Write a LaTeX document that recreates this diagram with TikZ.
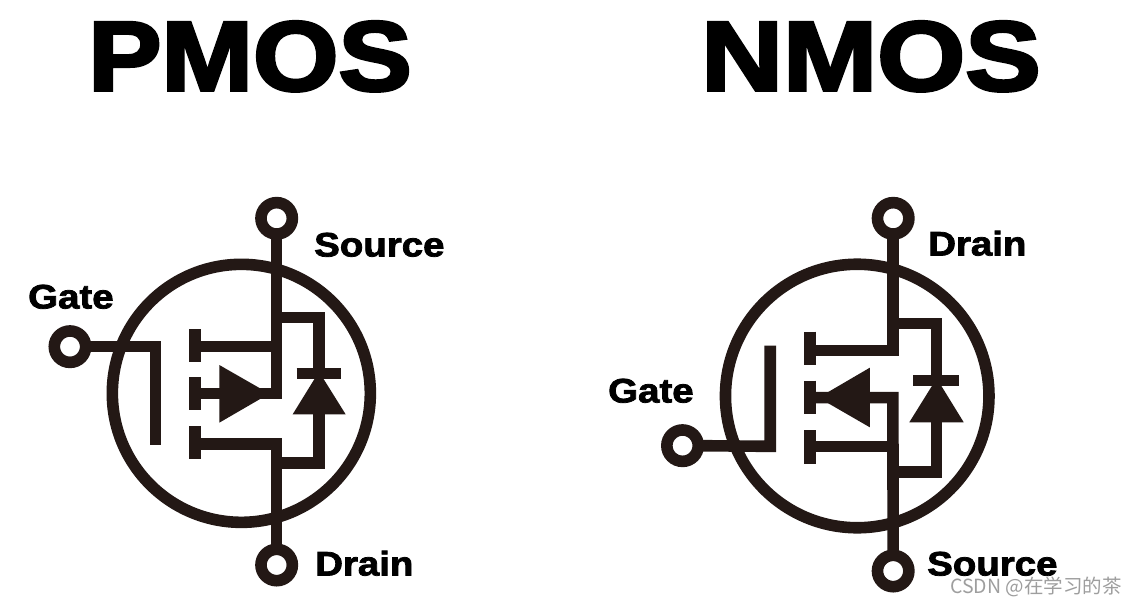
\documentclass[tikz,border=0pt]{standalone}
\usepackage{fontspec}
\setmainfont{Liberation Sans}
\newfontfamily\heavyfont[FakeBold=3]{Liberation Sans Bold}
\newfontfamily\labelfont[FakeBold=2.2]{Liberation Sans Bold}
\newfontfamily\markfont{Noto Sans CJK SC}
\definecolor{ink}{HTML}{231815}
\tikzset{
  wire/.style={draw=ink,line width=11.6pt,line join=miter,line cap=butt},
  solid shape/.style={fill=ink,draw=none},
  term/.style={circle,draw=ink,fill=white,line width=11.6pt,minimum size=31.4pt,inner sep=0pt,outer sep=0pt},
  titletext/.style={inner sep=0pt,anchor=base west,text=black,font=\heavyfont\fontsize{99}{99}\selectfont,xscale=1.11,transform shape},
  pinlabel/.style={inner sep=0pt,anchor=base west,text=black,font=\labelfont\fontsize{34}{34}\selectfont,xscale=1.13,transform shape},
}
\begin{document}
\begin{tikzpicture}[x=1pt,y=-1pt]
\useasboundingbox (0,0) rectangle (1137,605);
\fill[white] (0,0) rectangle (1137,605);
\node[titletext] (ptitle) at (88,90.5) {PMOS};
\node[titletext,xscale=1.03] (ntitle) at (701,90.5) {NMOS};
% PMOS
\begin{scope}[shift={(20pt,-190pt)},x=0.33333pt,y=-0.33333pt]
  \node[term] (ps) at (770,85) {};
  \node[term] (pd) at (770,1125) {};
  \node[term] (pg) at (150,470) {};
  \node[circle,draw=ink,line width=11.6pt,minimum size=258pt,inner sep=0pt] (pc) at (664,610) {};
  \draw[wire] (ps.south) -- (770,628);
  \draw[wire] (525,470) -- (770,470);
  \draw[wire] (525,611) -- (787,611);
  \draw[wire] (525,762) -- (770,762) -- (pd.north);
  \draw[wire] (pg.east) -- (406,470) -- (406,765);
  \foreach \y in {418,562,708} \draw[wire] (525,\y) -- (525,\y+98);
  \fill[solid shape] (598,525) -- (748,611) -- (598,698) -- cycle;
  \draw[wire] (770,383) -- (897,383) -- (897,551);
  \draw[wire] (830,551) -- (963,551);
  \fill[solid shape] (897,545) -- (977,673) -- (818,673) -- cycle;
  \draw[wire] (897,660) -- (897,819) -- (770,819);
\end{scope}
% NMOS
\begin{scope}[shift={(600pt,-190pt)},x=0.3425pt,y=-0.33333pt]
  \node[term] (ns) at (856,1143) {};
  \node[term] (nd) at (856,85) {};
  \node[term] (ng) at (241,767) {};
  \node[circle,draw=ink,line width=11.6pt,minimum size=263.5pt,inner sep=0pt] (nc) at (751,618) {};
  \draw[wire] (nd.south) -- (856,498);
  \draw[wire] (612,481) -- (874,481);
  \draw[wire] (612,623) -- (855,623) -- (ns.north);
  \draw[wire] (612,769) -- (855,769);
  \draw[wire] (ng.east) -- (497,769) -- (497,467);
  \foreach \y in {425,572,720} \draw[wire] (613,\y) -- (613,\y+101);
  \fill[solid shape] (788,533) -- (788,712) -- (638,623) -- cycle;
  \draw[wire] (856,400) -- (983,400) -- (983,571);
  \draw[wire] (915,571) -- (1049,571);
  \fill[solid shape] (983,565) -- (1062,697) -- (903,697) -- cycle;
  \draw[wire] (983,685) -- (983,846) -- (856,846);
\end{scope}
\node[pinlabel] (l1) at (314,256.5) {Source};
\node[pinlabel] (l2) at (28,308.5) {Gate};
\node[pinlabel] (l3) at (315,575.5) {Drain};
\node[pinlabel] (l4) at (928,255.5) {Drain};
\node[pinlabel] (l5) at (608,402.5) {Gate};
\node[pinlabel] (l6) at (927,575.5) {Source};
\node[inner sep=0pt,anchor=base west,text=black!38,font=\markfont\fontsize{19.5}{19.5}\selectfont] (wm) at (950,593) {CSDN @在学习的茶};
\end{tikzpicture}
\end{document}
